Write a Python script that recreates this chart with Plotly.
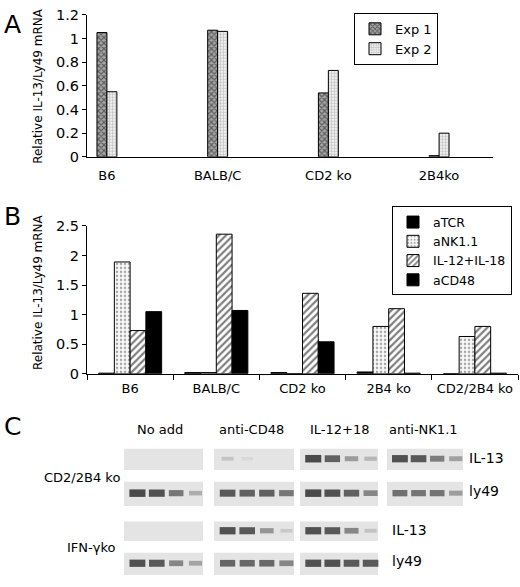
import plotly.graph_objects as go

# ---------------- data ----------------
# Panel A
a_categories = ["B6", "BALB/C", "CD2 ko", "2B4ko"]
a_exp1 = [1.05, 1.07, 0.54, 0.01]
a_exp2 = [0.55, 1.06, 0.73, 0.20]
a_yticks = [0, 0.2, 0.4, 0.6, 0.8, 1, 1.2]
a_yticklabels = ["0", "0.2", "0.4", "0.6", "0.8", "1", "1.2"]

# Panel B
b_categories = ["B6", "BALB/C", "CD2 ko", "2B4 ko", "CD2/2B4 ko"]
b_atcr = [0.01, 0.02, 0.02, 0.03, 0.0]
b_ank = [1.89, 0.02, 0.0, 0.80, 0.63]
b_il12 = [0.73, 2.36, 1.36, 1.10, 0.80]
b_acd48 = [1.05, 1.07, 0.54, 0.01, 0.01]
b_yticks = [0, 0.5, 1, 1.5, 2, 2.5]
b_yticklabels = ["0", "0.5", "1", "1.5", "2", "2.5"]

# Panel C (band intensity, 0 = none, 1 = strongest; 4 dilution lanes per gel)
c_treatments = ["No add", "anti-CD48", "IL-12+18", "anti-NK1.1"]
c_strains = ["CD2/2B4 ko", "IFN-γko"]
c_genes = ["IL-13", "ly49"]
c_cd2_il13 = [[0, 0, 0, 0], [0.18, 0.06, 0, 0], [1.0, 0.85, 0.45, 0.28], [0.95, 0.9, 0.65, 0.42]]
c_cd2_ly49 = [[1.0, 0.95, 0.7, 0.35], [0.9, 0.85, 0.85, 0.7], [1.0, 0.95, 0.85, 0.6], [0.75, 0.72, 0.72, 0.45]]
c_ifn_il13 = [[0, 0, 0, 0], [0.95, 0.9, 0.5, 0.15], [0.95, 0.9, 0.6, 0.2]]
c_ifn_ly49 = [[0.95, 0.9, 0.6, 0.4], [0.82, 0.8, 0.8, 0.6], [0.95, 0.95, 0.9, 0.9]]

# ---------------- layout constants ----------------
W, H = 520, 587
FONT = "DejaVu Sans"

def px_x(p):
    return p / W

def px_y(p):
    return (H - p) / H

fig = go.Figure()

# ---------------- Panel A ----------------
fig.add_trace(go.Bar(
    x=list(range(len(a_categories))), y=a_exp1, name="Exp 1",
    xaxis="x", yaxis="y", legend="legend",
    marker=dict(color="#777777", line=dict(color="black", width=1),
                pattern=dict(shape="x", fgcolor="#111111", bgcolor="#a8a8a8", size=4, solidity=0.5)),
))
fig.add_trace(go.Bar(
    x=list(range(len(a_categories))), y=a_exp2, name="Exp 2",
    xaxis="x", yaxis="y", legend="legend",
    marker=dict(color="#dddddd", line=dict(color="black", width=1),
                pattern=dict(shape="+", fgcolor="#8a8a8a", bgcolor="#eeeeee", size=3, solidity=0.35)),
))

# ---------------- Panel B ----------------
b_series = [
    ("aTCR", b_atcr, dict(color="black")),
    ("aNK1.1", b_ank, dict(color="white", pattern=dict(shape=".", fgcolor="#555555", bgcolor="#f8f8f8", size=4, solidity=0.3))),
    ("IL-12+IL-18", b_il12, dict(color="white", pattern=dict(shape="/", fgcolor="black", bgcolor="white", size=5, solidity=0.45))),
    ("aCD48", b_acd48, dict(color="black")),
]
B_BAR_W = 0.183
for k, (name, vals, mk) in enumerate(b_series):
    mk = dict(mk)
    mk["line"] = dict(color="black", width=1)
    fig.add_trace(go.Bar(x=b_categories, y=vals, name=name, xaxis="x2", yaxis="y2",
                         legend="legend2", marker=mk, width=B_BAR_W,
                         offset=-2 * B_BAR_W + k * B_BAR_W))

# ---------------- Panel C (gels) ----------------
col_left = [124, 214, 300, 387]
col_w = [79, 80, 78, 76]
row_top = [453, 487, 528, 560]
row_h = [22, 25, 20, 23]
gel_rows = [c_cd2_il13, c_cd2_ly49, c_ifn_il13, c_ifn_ly49]

box_x, box_w, box_base, box_h = [], [], [], []
band_x, band_y, band_size, band_thick, band_col = [], [], [], [], []
for r, row in enumerate(gel_rows):
    for c, lanes in enumerate(row):
        box_x.append(col_left[c] + col_w[c] / 2)
        box_w.append(col_w[c])
        box_base.append(row_top[r])
        box_h.append(row_h[r])
        for i, inten in enumerate(lanes):
            if inten <= 0:
                continue
            band_x.append(col_left[c] + col_w[c] * (0.17 + 0.245 * i))
            band_y.append(row_top[r] + row_h[r] * 0.47)
            band_size.append(8 + 3.5 * inten)
            band_thick.append(3 + 4.5 * inten)
            g = int(224 - 214 * inten)
            band_col.append(f"rgb({g},{g},{g})")

fig.add_trace(go.Bar(x=box_x, y=box_h, base=box_base, width=box_w, xaxis="x3", yaxis="y3",
                     marker=dict(color="#e4e4e4", line=dict(width=0)), showlegend=False,
                     hoverinfo="skip"))
fig.add_trace(go.Scatter(x=band_x, y=band_y, mode="markers", xaxis="x3", yaxis="y3",
                         marker=dict(symbol="line-ew", size=band_size,
                                     line=dict(width=band_thick, color=band_col)),
                         showlegend=False, hoverinfo="skip"))

# ---------------- annotations ----------------
ann = []
ann.append(dict(text="A", x=px_x(2), y=px_y(17), xanchor="left", yanchor="middle", font=dict(size=25)))
ann.append(dict(text="B", x=px_x(2), y=px_y(214), xanchor="left", yanchor="middle", font=dict(size=25)))
ann.append(dict(text="C", x=px_x(2), y=px_y(430), xanchor="left", yanchor="middle", font=dict(size=25)))
ann.append(dict(text="Relative IL-13/Ly49 mRNA", x=px_x(38), y=px_y(80), textangle=-90,
                xanchor="center", yanchor="middle", font=dict(size=12)))
ann.append(dict(text="Relative IL-13/Ly49 mRNA", x=px_x(38), y=px_y(292), textangle=-90,
                xanchor="center", yanchor="middle", font=dict(size=12)))
for t, cx in zip(c_treatments, [160, 251, 340, 423]):
    ann.append(dict(text=t, x=px_x(cx), y=px_y(433), xanchor="center", yanchor="middle", font=dict(size=13)))
for t, cy in zip(c_strains, [483, 555]):
    ann.append(dict(text=t, x=px_x(122 if t.startswith("CD2") else 117), y=px_y(cy), xanchor="right",
                    yanchor="middle", font=dict(size=13)))
for t, lx, cy in [(c_genes[0], 467, 463), (c_genes[1], 467, 497), (c_genes[0], 390, 537), (c_genes[1], 390, 568)]:
    ann.append(dict(text=t, x=px_x(lx), y=px_y(cy), xanchor="left", yanchor="middle", font=dict(size=14)))
for a in ann:
    a.update(xref="paper", yref="paper", showarrow=False)
    a["font"].update(family=FONT, color="black")

axis_common = dict(showline=True, linecolor="black", linewidth=1, showgrid=False, zeroline=False,
                   tickcolor="black")
xfont = dict(family=FONT, size=13, color="black")
yfont = dict(family=FONT, size=14.5, color="black")

fig.update_layout(
    width=W, height=H, margin=dict(l=0, r=0, t=0, b=0),
    paper_bgcolor="white", plot_bgcolor="white",
    font=dict(family=FONT, color="black"),
    barmode="group", bargap=0.82, bargroupgap=0,
    xaxis=dict(domain=[px_x(87), px_x(493)], range=[-0.18, 3.487], tickvals=list(range(len(a_categories))),
               ticktext=a_categories, ticks="", ticklabelstandoff=7, tickfont=xfont, anchor="y", **axis_common),
    yaxis=dict(domain=[px_y(153), px_y(7)], range=[0, 1.2], tickvals=a_yticks, ticktext=a_yticklabels,
               ticks="outside", ticklen=4, tickfont=yfont, anchor="x", **axis_common),
    xaxis2=dict(domain=[px_x(87), px_x(518)], type="category", range=[-0.5, 4.5], tickson="boundaries",
                ticks="outside", ticklen=5, ticklabelstandoff=3, tickfont=xfont, anchor="y2", **axis_common),
    yaxis2=dict(domain=[px_y(376), px_y(224)], range=[0, 2.5], tickvals=b_yticks, ticktext=b_yticklabels,
                ticks="outside", ticklen=4, tickfont=yfont, anchor="x2", **axis_common),
    xaxis3=dict(domain=[0, 1], range=[0, W], visible=False, anchor="y3"),
    yaxis3=dict(domain=[0, px_y(415)], range=[H, 415], visible=False, anchor="x3"),
    legend=dict(x=px_x(438), y=px_y(5), xanchor="right", yanchor="top", bgcolor="white",
                bordercolor="black", borderwidth=1, font=dict(family=FONT, size=13),
                itemwidth=30, tracegroupgap=0),
    legend2=dict(x=px_x(392), y=px_y(204), xanchor="left", yanchor="top", bgcolor="white",
                 bordercolor="black", borderwidth=1, font=dict(family=FONT, size=12.5),
                 itemwidth=30, tracegroupgap=0),
    annotations=ann,
)

fig.write_html("out.html", config={"displayModeBar": False},
               post_script="document.body.style.margin='0px';document.body.style.overflow='hidden';")
